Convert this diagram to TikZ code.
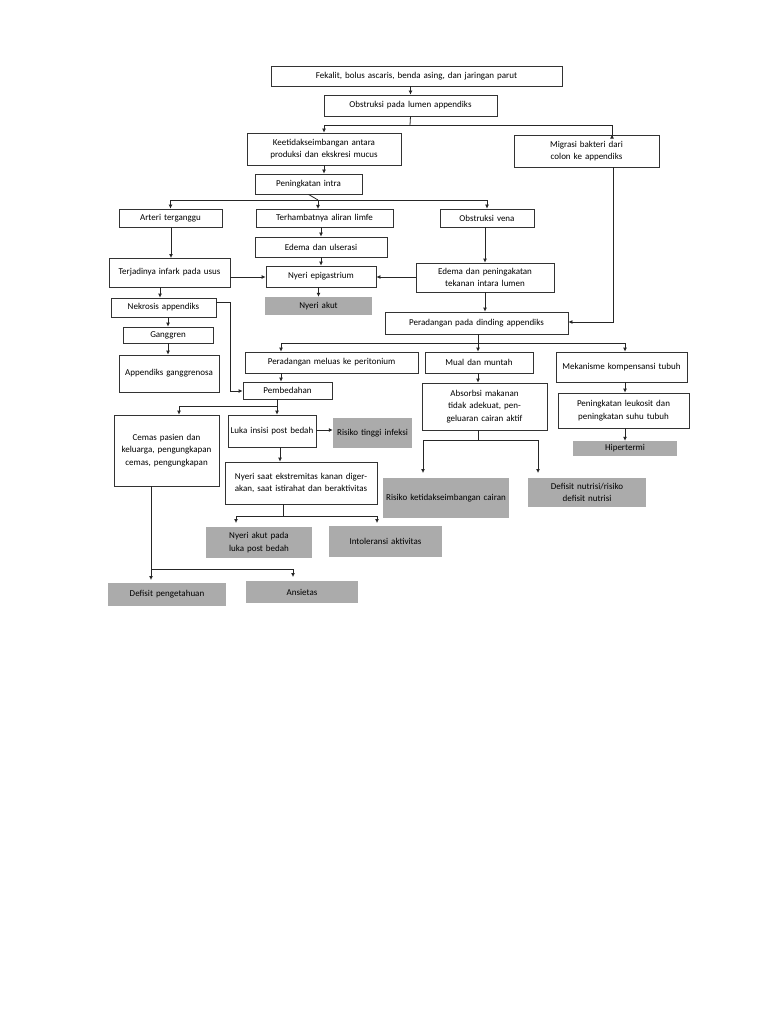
\documentclass[tikz,border=0pt]{standalone}
\usepackage{fontspec}
\setmainfont{Carlito}
\usetikzlibrary{arrows.meta}
\newcommand\bx[7]{\pgfmathsetmacro\bw{#4-#2}\pgfmathsetmacro\bh{#5-#3}\pgfmathsetmacro\tw{#4-#2-4}\node[#1,minimum width=\bw pt,minimum height=\bh pt,text width=\tw pt] (#6) at ({(#2+#4)/2},{(#3+#5)/2}) {#7};}
\tikzset{
 wb/.style={draw=black!80,line width=0.8pt,fill=white,inner xsep=2pt,inner ysep=0pt,align=center,font=\fontsize{9}{12.5}\selectfont},
 gb/.style={fill=black!33,inner xsep=2pt,inner ysep=0pt,align=center,font=\fontsize{9}{12.5}\selectfont},
 ln/.style={draw=black!85,line width=0.8pt},
 arr/.style={ln,-{Latex[length=4pt,width=4pt]}}
}
\begin{document}
\begin{tikzpicture}[x=1pt,y=-1pt]
\fill[white] (0,0) rectangle (768,1024);
\useasboundingbox (0,0) rectangle (768,1024);
\bx{wb}{271}{66}{562}{86}{fek}{Fekalit, bolus ascaris, benda asing, dan jaringan parut}
\bx{wb}{324}{95}{497}{116}{obs}{Obstruksi pada lumen appendiks}
\bx{wb}{247}{133}{401}{165}{kee}{Keetidakseimbangan antara produksi dan ekskresi mucus}
\bx{wb}{514}{135}{659}{167}{mig}{Migrasi bakteri dari colon ke appendiks}
\bx{wb}{255}{174}{362}{194}{pin}{Peningkatan intra}
\bx{wb}{119}{209}{222}{227}{art}{Arteri terganggu}
\bx{wb}{256}{209}{393}{227}{ter}{Terhambatnya aliran limfe}
\bx{wb}{440}{209}{534}{227}{obv}{Obstruksi vena}
\bx{wb}{255}{237}{387}{257}{edu}{Edema dan ulserasi}
\bx{wb}{109}{258}{230}{287}{inf}{Terjadinya infark pada usus}
\bx{wb}{266}{266}{376}{287}{epi}{Nyeri epigastrium}
\bx{wb}{416}{263}{554}{292}{edp}{Edema dan peningakatan tekanan intara lumen}
\bx{wb}{111}{298}{216}{317}{nek}{Nekrosis appendiks}
\bx{gb}{265}{297}{372}{315}{nak}{Nyeri akut}
\bx{wb}{385}{312}{568}{334}{prd}{Peradangan pada dinding appendiks}
\bx{wb}{123}{327}{213}{343}{gan}{Ganggren}
\bx{wb}{119}{355}{219}{392}{apg}{Appendiks ganggrenosa}
\bx{wb}{245}{352}{418}{373}{pml}{Peradangan meluas ke peritonium}
\bx{wb}{425}{352}{533}{373}{mua}{Mual dan muntah}
\bx{wb}{556}{352}{687}{382}{mek}{Mekanisme kompensansi tubuh}
\bx{wb}{243}{382}{332}{399}{pem}{Pembedahan}
\bx{wb}{422}{383}{547}{430}{abs}{Absorbsi makanan tidak adekuat, pengeluaran cairan aktif}
\bx{wb}{558}{393}{689}{428}{leu}{Peningkatan leukosit dan peningkatan suhu tubuh}
\bx{gb}{573}{441}{677}{456}{hip}{Hipertermi}
\bx{wb}{114}{415}{219}{486}{cem}{Cemas pasien dan keluarga, pengungkapan cemas, pengungkapan}
\bx{wb}{228}{415}{316}{447}{luk}{Luka insisi post bedah}
\bx{gb}{333}{418}{412}{448}{rti}{Risiko tinggi infeksi}
\bx{wb}{225}{462}{377}{504}{nye}{Nyeri saat ekstremitas kanan digerakan, saat istirahat dan beraktivitas}
\bx{gb}{383}{478}{509}{518}{rkc}{Risiko ketidakseimbangan cairan}
\bx{gb}{528}{478}{646}{507}{dnu}{Defisit nutrisi/risiko defisit nutrisi}
\bx{gb}{206}{527}{312}{558}{nal}{Nyeri akut pada luka post bedah}
\bx{gb}{329}{526}{442}{557}{int}{Intoleransi aktivitas}
\bx{gb}{108}{583}{226}{606}{dpe}{Defisit pengetahuan}
\bx{gb}{246}{581}{358}{603}{ans}{Ansietas}
% connectors
\draw[arr] (fek.south -| obs) -- (obs.north);
\draw[ln] (obs.south) -- (410,125);
\draw[arr] (410,125) -| (kee.north);
\draw[arr] (410,125) -| (612,135) -- (mig.north -| 612,0);
\draw[arr] (kee.south) -- (kee.south |- pin.north);
\draw[ln] (pin.south) -- (318,200);
\draw[arr] (318,200) -| (art.north);
\draw[arr] (318,200) -- (318,209);
\draw[arr] (318,200) -| (obv.north);
\draw[arr] (ter.south -| edu) -- (edu.north);
\draw[arr] (edu.south -| epi) -- (epi.north);
\draw[arr] (epi.south -| nak) -- (nak.north);
\draw[arr] (art.south -| 171,0) -- (171,258);
\draw[arr] (inf.east |- 0,277) -- (epi.west |- 0,277);
\draw[arr] (edp.west |- 0,277) -- (epi.east |- 0,277);
\draw[arr] (obv.south -| 485,0) -- (edp.north -| 485,0);
\draw[arr] (edp.south -| 485,0) -- (prd.north -| 485,0);
\draw[arr] (mig.south -| 613,0) -- (613,322) -- (prd.east |- 0,322);
\draw[arr] (inf.south -| 160,0) -- (nek.north -| 160,0);
\draw[arr] (nek.south -| 168,0) -- (gan.north -| 168,0);
\draw[arr] (gan.south -| 168,0) -- (apg.north -| 168,0);
\draw[arr] (nek.east |- 0,302) -- (230,302) -- (230,391) -- (pem.west |- 0,391);
\draw[ln] (prd.south -| 478,0) -- (478,343);
\draw[arr] (478,343) -| (pml.north -| 281,0);
\draw[arr] (478,343) -- (mua.north -| 478,0);
\draw[arr] (478,343) -| (mek.north -| 625,0);
\draw[arr] (pml.south -| 281,0) -- (pem.north -| 281,0);
\draw[arr] (mua.south -| 478,0) -- (abs.north -| 478,0);
\draw[arr] (mek.south -| 625,0) -- (leu.north -| 625,0);
\draw[arr] (leu.south -| 625,0) -- (hip.north -| 625,0);
\draw[ln] (pem.south -| 277,0) -- (277,406);
\draw[arr] (277,406) -| (cem.north -| 179,0);
\draw[arr] (277,406) -- (luk.north -| 277,0);
\draw[arr] (luk.east |- 0,430) -- (rti.west |- 0,430);
\draw[arr] (luk.south -| 280,0) -- (nye.north -| 280,0);
\draw[ln] (abs.south -| 478,0) -- (478,440);
\draw[arr] (478,440) -| (423,473);
\draw[arr] (478,440) -| (538,473);
\draw[ln] (nye.south -| 283,0) -- (283,516);
\draw[arr] (283,516) -| (236,523);
\draw[arr] (283,516) -| (377,523);
\draw[arr] (cem.south -| 151,0) -- (151,580);
\draw[arr] (151,569) -| (293,577);
\end{tikzpicture}
\end{document}
